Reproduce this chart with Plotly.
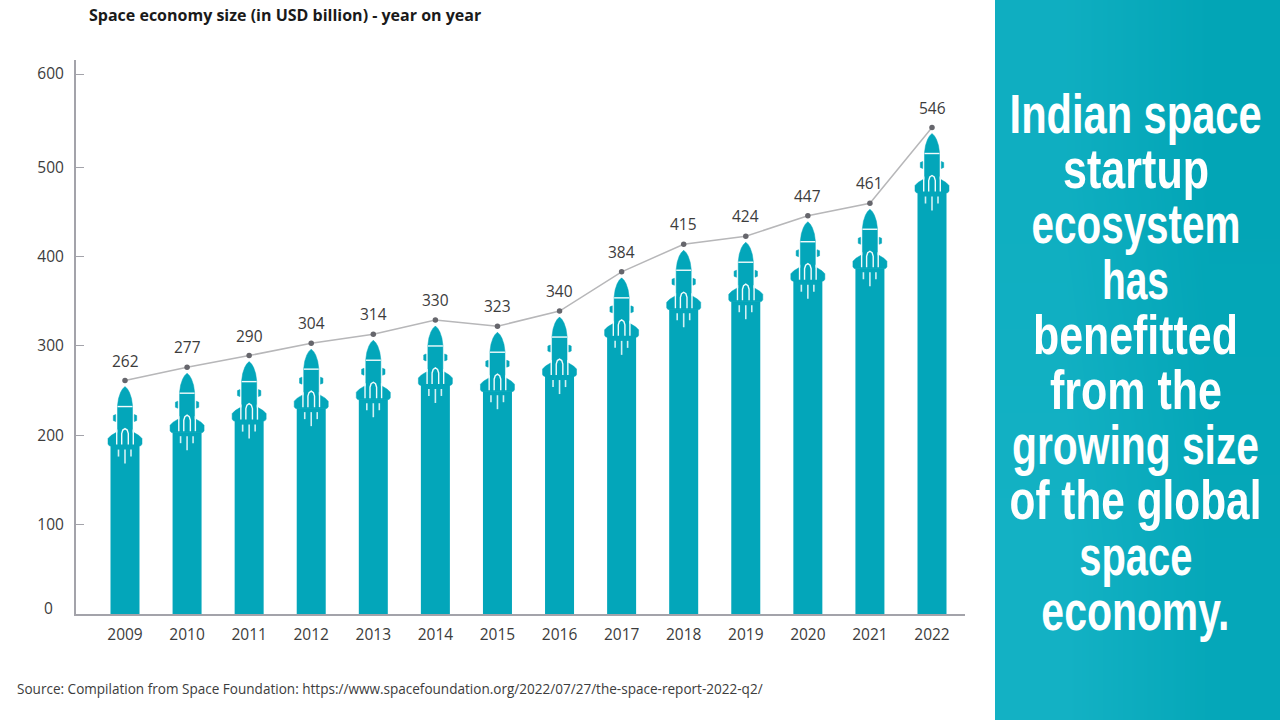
import json
import plotly.graph_objects as go

years = [2009, 2010, 2011, 2012, 2013, 2014, 2015, 2016, 2017, 2018, 2019, 2020, 2021, 2022]
values = [262, 277, 290, 304, 314, 330, 323, 340, 384, 415, 424, 447, 461, 546]
y_ticks = [100, 200, 300, 400, 500, 600]
y_tick_pos = [100, 200, 300.8, 400.7, 500.6, 606]
title = "Space economy size (in USD billion) - year on year"
source = "Source: Compilation from Space Foundation: https://www.spacefoundation.org/2022/07/27/the-space-report-2022-q2/"
side_lines = ["Indian space", "startup", "ecosystem", "has", "benefitted", "from the",
              "growing size", "of the global", "space", "economy."]
side_widths = [252, 146, 209, 67, 205, 172, 247, 252, 113, 188]

W, H = 1280, 720
L, R, T, B = 76, 965, 60, 614
PX_Y = 0.891
PX_X = 62.08
TEAL = "#03A6BA"
DETAIL = "#D4F0F4"
AX = "#A3A3AA"
TXT = "#3C3C3C"
SIDE_X = 1135.5
x_range = [2009 - (125 - L) / PX_X, 2022 + (R - 932) / PX_X]
y_range = [0, (B - T) / PX_Y]


def dx(p):
    return p / PX_X


def dy(p):
    return p / PX_Y


TIP = 6  # rocket tip sits this many px under the data point
BODY = 59  # px from tip to the top of the column
sil = [(0, 0), (2.5, 2.5), (4.5, 6), (6.5, 12), (7.5, 19), (7.5, 46), (9, 46), (14, 49), (17, 52), (17, 57.5),
       (16, 59), (14.5, 59.5), (-14.5, 59.5), (-16, 59), (-17, 57.5), (-17, 52), (-14, 49), (-9, 46),
       (-7.5, 46), (-7.5, 19), (-6.5, 12), (-4.5, 6), (-2.5, 2.5)]
fin_l = [(-9.3, 28), (-11.7, 29), (-11.7, 34), (-9.3, 35)]
fin_r = [(9.3, 28), (11.7, 29), (11.7, 34), (9.3, 35)]
white_paths = [[(-7.5, 20), (7.5, 20)], [(-8.3, 43), (-8.3, 58)], [(8.3, 43), (8.3, 58)]]
arch = [(-3.3, 58), (-3.3, 47), (-2.2, 43.5), (0, 42), (2.2, 43.5), (3.3, 47), (3.3, 58)]
flames = [[(-6.5, 63), (-6.5, 70)], [(0, 63), (0, 77)], [(6, 63), (6, 70)]]


def build(paths, close):
    xs, ys = [], []
    for yr, v in zip(years, values):
        for path in paths:
            pts = path + [path[0]] if close else path
            for px, py in pts:
                xs.append(yr + dx(px))
                ys.append(v - dy(TIP + py))
            xs.append(None)
            ys.append(None)
    return xs, ys


fig = go.Figure()

# gradient side panel
fig.add_trace(go.Heatmap(z=[[0.0, 0.82], [0.25, 1.0]], zsmooth="best", showscale=False, hoverinfo="skip",
                         colorscale=[[0, "#13B1C4"], [1, "#02A5B6"]], zmin=0, zmax=1,
                         xaxis="x2", yaxis="y2"))

# columns
fig.add_trace(go.Bar(x=years, y=[v - dy(TIP + BODY) for v in values], width=29 / PX_X,
                     marker=dict(color=TEAL, line=dict(width=0)), hoverinfo="skip"))
# rocket silhouettes
xs, ys = build([sil, fin_l, fin_r], True)
fig.add_trace(go.Scatter(x=xs, y=ys, mode="lines", fill="toself", fillcolor=TEAL,
                         line=dict(color=TEAL, width=0.5), hoverinfo="skip"))
# details
xs, ys = build(white_paths + [arch], False)
fig.add_trace(go.Scatter(x=xs, y=ys, mode="lines", line=dict(color="#F2FBFC", width=1.4), hoverinfo="skip"))
xs, ys = build(flames, False)
fig.add_trace(go.Scatter(x=xs, y=ys, mode="lines", line=dict(color=DETAIL, width=1.6), hoverinfo="skip"))
# line
fig.add_trace(go.Scatter(x=years, y=values, mode="lines+markers",
                         line=dict(color="#B7B7B9", width=1.5),
                         marker=dict(color="#66666C", size=5.5), hoverinfo="skip"))

ann = []
for yr, v in zip(years, values):
    ann.append(dict(x=yr, y=v, xref="x", yref="y", text=str(v), showarrow=False, yshift=20,
                    font=dict(family="Open Sans", size=15.5, color=TXT)))
ann.append(dict(x=55 / W, y=1 - 607.5 / H, xref="paper", yref="paper", text="0", showarrow=False,
                xanchor="right", yanchor="middle", font=dict(family="Open Sans", size=15.5, color=TXT)))
ann.append(dict(x=87 / W, y=1 - 15 / H, xref="paper", yref="paper", text="<b>" + title + "</b>", showarrow=False,
                xanchor="left", yanchor="middle", font=dict(family="Open Sans", size=16, color="#1A1A1A")))
ann.append(dict(x=15 / W, y=1 - 689 / H, xref="paper", yref="paper", text=source, showarrow=False,
                xanchor="left", yanchor="middle", font=dict(family="Open Sans", size=13.55, color=TXT)))
for i, line in enumerate(side_lines):
    ann.append(dict(x=SIDE_X / W, y=1 - (114 + i * 55.2) / H, xref="paper", yref="paper",
                    text="<b>" + line + "</b>", showarrow=False, xanchor="center", yanchor="middle",
                    font=dict(family="Liberation Sans", size=55, color="white")))

fig.update_layout(
    width=W, height=H, margin=dict(l=0, r=0, t=0, b=0), paper_bgcolor="white", plot_bgcolor="white",
    showlegend=False, barmode="overlay", annotations=ann,
    xaxis=dict(domain=[L / W, R / W], range=x_range, tickmode="array", tickvals=years,
               ticktext=[str(y) for y in years], showgrid=False, zeroline=False, showline=True,
               linecolor=AX, linewidth=2, ticks="", ticklabelstandoff=5,
               tickfont=dict(family="Open Sans", size=15.5, color=TXT)),
    yaxis=dict(domain=[1 - B / H, 1 - T / H], range=y_range, tickmode="array", tickvals=y_tick_pos,
               ticktext=[str(t) for t in y_ticks], showgrid=False, zeroline=False, showline=True,
               linecolor=AX, linewidth=2, ticks="inside", ticklen=8, tickwidth=1, tickcolor=AX,
               ticklabelstandoff=7, tickfont=dict(family="Open Sans", size=15.5, color=TXT)),
    xaxis2=dict(domain=[995 / W, 1], visible=False, anchor="y2", fixedrange=True),
    yaxis2=dict(domain=[0, 1], visible=False, anchor="x2", fixedrange=True),
)

# Condense the side text to the narrow headline proportions of the reference (stays real text).
widths = json.dumps(dict(zip(side_lines, side_widths)))
post = """
document.body.style.margin='0';
var w = %s, cx = %s;
document.querySelectorAll('g.annotation-text-g').forEach(function(g){
  var t = g.querySelector('text.annotation-text');
  if (!t || !w[t.textContent]) return;
  var k = w[t.textContent] / t.getComputedTextLength();
  var old = g.getAttribute('transform') || '';
  g.setAttribute('transform', 'translate(' + cx + ',0) scale(' + k + ',1) translate(' + (-cx) + ',0) ' + old);
});
""" % (widths, SIDE_X)
fig.write_html("out.html", post_script=post, config={"displayModeBar": False})
